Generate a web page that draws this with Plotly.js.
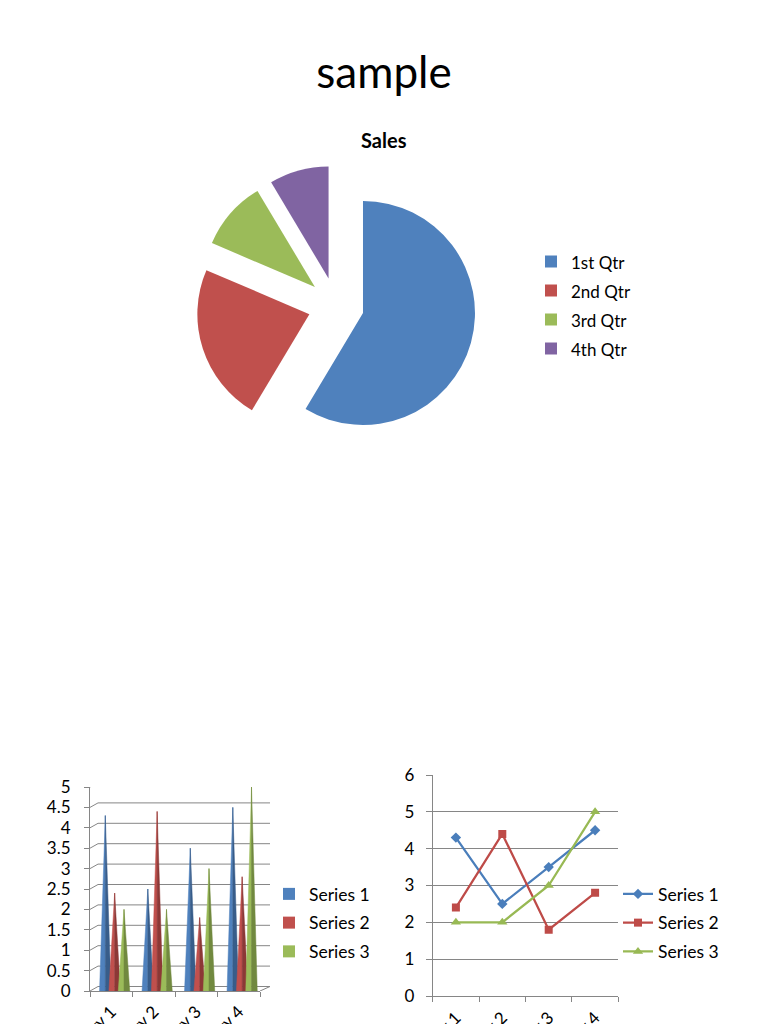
<!DOCTYPE html>
<html>
<head>
<meta charset="utf-8">
<script src="https://cdn.plot.ly/plotly-3.0.1.min.js"></script>
<style>
  html, body { margin: 0; padding: 0; background: #fff; }
  #chart { width: 768px; height: 1024px; }
</style>
</head>
<body>
<div id="chart"></div>
<script>
// ---------- data ----------
const quarters = ['1st Qtr', '2nd Qtr', '3rd Qtr', '4th Qtr'];
const sales = [8.2, 3.2, 1.4, 1.2];

const categories = ['Category 1', 'Category 2', 'Category 3', 'Category 4'];
const seriesNames = ['Series 1', 'Series 2', 'Series 3'];
const series1 = [4.3, 2.5, 3.5, 4.5];
const series2 = [2.4, 4.4, 1.8, 2.8];
const series3 = [2, 2, 3, 5];

// ---------- styling ----------
const W = 768, H = 1024;
const px = x => x / W;
const py = y => 1 - y / H;
const FONT = 'Lato, "Open Sans", sans-serif';
const GRID = '#868686';
const pieColors = ['#4F81BD', '#C0504D', '#9BBB59', '#8064A2'];
const coneLight = ['#4F81BD', '#C0504D', '#9BBB59'];
const coneDark = ['#385D8A', '#8C3836', '#71893F'];
const lineColors = ['#4A7EBB', '#BE4B48', '#98B954'];
const lineSymbols = ['diamond', 'square', 'triangle-up'];
const coneOffsets = [-0.14, 0.08, 0.30];
const coneHalf = 0.135;

const seriesData = [series1, series2, series3];
const traces = [];

// ---------- pie ----------
traces.push({
  type: 'pie',
  labels: quarters.map(q => '<span style="font-size:17px">' + q + '</span>'),
  values: sales,
  sort: false,
  direction: 'clockwise',
  rotation: 0,
  pull: 0.25,
  textinfo: 'none',
  marker: { colors: pieColors },
  domain: { x: [px(196), px(476)], y: [py(445.5), py(165.5)] },
  legend: 'legend',
  hoverinfo: 'label+value'
});

// ---------- 3D cone column chart ----------
seriesData.forEach((vals, s) => {
  const lx = [], ly = [], rx = [], ry = [];
  vals.forEach((v, i) => {
    const c = i + coneOffsets[s];
    lx.push(c - coneHalf, c, c, c - coneHalf, null);
    ly.push(0, v, 0, 0, null);
    rx.push(c, c, c + coneHalf, c, null);
    ry.push(0, v, 0, 0, null);
  });
  traces.push({
    type: 'scatter', mode: 'lines', x: lx, y: ly, xaxis: 'x4', yaxis: 'y',
    fill: 'toself', fillcolor: coneLight[s], line: { color: coneLight[s], width: 0.5 },
    showlegend: false, hoverinfo: 'skip'
  });
  traces.push({
    type: 'scatter', mode: 'lines', x: rx, y: ry, xaxis: 'x4', yaxis: 'y',
    fill: 'toself', fillcolor: coneDark[s], line: { color: coneDark[s], width: 0.5 },
    showlegend: false, hoverinfo: 'skip'
  });
  // data bars (hairline, under the cones) that carry the legend entries
  traces.push({
    type: 'bar', x: categories, y: vals, name: seriesNames[s],
    xaxis: 'x', yaxis: 'y',
    width: 0.001, offset: coneOffsets[s],
    marker: { color: coneLight[s], line: { width: 0 } },
    legend: 'legend2', legendgroup: 'b' + s
  });
});

// ---------- line chart ----------
seriesData.forEach((vals, s) => {
  traces.push({
    type: 'scatter', mode: 'lines+markers',
    x: categories.slice(0, vals.length), y: vals, name: seriesNames[s],
    xaxis: 'x2', yaxis: 'y2',
    line: { color: lineColors[s], width: 2.25 },
    marker: { symbol: lineSymbols[s], size: s === 2 ? 9 : 8, color: lineColors[s] },
    legend: 'legend3', legendgroup: 'l' + s
  });
});

// back-wall grid of the 3D chart (offset for perspective)
const shapes = [];
const depthX = 8, depthY = 4.5;
for (let v = 0; v <= 5.0001; v += 0.5) {
  shapes.push({
    type: 'line', layer: 'below', xref: 'paper', yref: 'y', ysizemode: 'pixel', yanchor: v,
    x0: px(90 + depthX), x1: px(270), y0: depthY, y1: depthY,
    line: { color: GRID, width: 1 }
  });
  shapes.push({
    type: 'line', layer: 'below', xref: 'paper', yref: 'y', ysizemode: 'pixel', yanchor: v,
    x0: px(90), x1: px(90 + depthX), y0: 0, y1: depthY,
    line: { color: GRID, width: 1 }
  });
}
shapes.push({
  type: 'line', layer: 'below', xref: 'paper', yref: 'y', ysizemode: 'pixel', yanchor: 0,
  x0: px(260), x1: px(270), y0: 0, y1: depthY,
  line: { color: GRID, width: 1 }
});

const tickFont = { family: FONT, size: 17, color: '#000' };

const layout = {
  width: W, height: H,
  margin: { l: 0, r: 0, t: 0, b: 0, pad: 0 },
  paper_bgcolor: '#fff', plot_bgcolor: 'rgba(0,0,0,0)',
  font: { family: FONT, color: '#000' },
  showlegend: true,
  title: {
    text: 'sample', font: { family: FONT, size: 44, color: '#000' },
    x: 0.5, xanchor: 'center', y: py(73), yanchor: 'middle'
  },
  annotations: [{
    text: '<b>Sales</b>', xref: 'paper', yref: 'paper', x: px(384), y: py(140),
    xanchor: 'center', yanchor: 'middle', showarrow: false,
    font: { family: FONT, size: 20, color: '#000' }
  }],
  shapes: shapes,
  bargap: 0,
  // 3D column chart (front axes)
  xaxis: {
    type: 'category', domain: [px(90), px(260)], anchor: 'y', range: [-0.5, 3.5],
    tickson: 'boundaries', ticks: 'outside', ticklen: 5, tickcolor: GRID,
    showline: true, linecolor: GRID, showgrid: false, zeroline: false,
    tickangle: -45, tickfont: tickFont, ticklabelstandoff: 3, fixedrange: true
  },
  xaxis4: { overlaying: 'x', anchor: 'y', range: [-0.5, 3.5], visible: false, fixedrange: true },
  yaxis: {
    domain: [py(991), py(787)], anchor: 'x', range: [0, 5], dtick: 0.5, tick0: 0,
    ticks: 'outside', ticklen: 5, tickcolor: GRID, showline: true, linecolor: GRID,
    showgrid: false, zeroline: false, tickfont: tickFont, ticklabelstandoff: 10, fixedrange: true
  },
  // line chart
  xaxis2: {
    type: 'category', domain: [px(432.7), px(618.3)], anchor: 'y2', range: [-0.5, 3.5],
    tickson: 'boundaries', ticks: 'outside', ticklen: 5, tickcolor: GRID,
    showline: true, linecolor: GRID, showgrid: false, zeroline: false,
    tickangle: -45, tickfont: tickFont, ticklabelstandoff: 4, fixedrange: true
  },
  yaxis2: {
    domain: [py(996), py(775)], anchor: 'x2', range: [0, 6], dtick: 1, tick0: 0,
    ticks: 'outside', ticklen: 6, tickcolor: GRID, showline: true, linecolor: GRID,
    showgrid: true, gridcolor: GRID, zeroline: false, tickfont: tickFont,
    ticklabelstandoff: 8, fixedrange: true
  },
  legend: {
    x: px(531), xanchor: 'left', y: py(305), yanchor: 'middle',
    font: { family: FONT, size: 20, color: '#000' }, bgcolor: 'rgba(0,0,0,0)'
  },
  legend2: {
    x: px(269), xanchor: 'left', y: py(923), yanchor: 'middle',
    traceorder: 'grouped', tracegroupgap: 3,
    font: { family: FONT, size: 17.5, color: '#000' }, bgcolor: 'rgba(0,0,0,0)'
  },
  legend3: {
    x: px(618), xanchor: 'left', y: py(923), yanchor: 'middle',
    traceorder: 'grouped', tracegroupgap: 3,
    font: { family: FONT, size: 17.5, color: '#000' }, bgcolor: 'rgba(0,0,0,0)'
  }
};

Plotly.newPlot('chart', traces, layout, { staticPlot: true, displayModeBar: false });
</script>
</body>
</html>
